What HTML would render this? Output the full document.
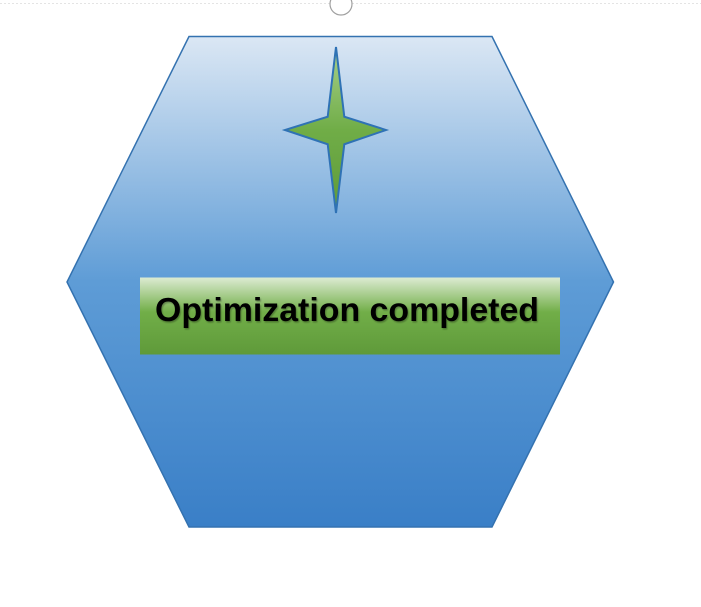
<!DOCTYPE html>
<html><head><meta charset="utf-8"><style>
html,body{margin:0;padding:0;background:#fff;}
svg{display:block;}
</style></head><body>
<svg width="701" height="607" viewBox="0 0 701 607" xmlns="http://www.w3.org/2000/svg">
<defs>
<linearGradient id="hex" x1="0" y1="0" x2="0" y2="1">
<stop offset="0" stop-color="#dbe7f4"/>
<stop offset="0.5" stop-color="#5e9cd6"/>
<stop offset="1" stop-color="#3a7fc7"/>
</linearGradient>
<linearGradient id="grn" x1="0" y1="0" x2="0" y2="1">
<stop offset="0" stop-color="#dcebd2"/>
<stop offset="0.45" stop-color="#71ae48"/>
<stop offset="1" stop-color="#5f9a3a"/>
</linearGradient>
<linearGradient id="star" x1="0" y1="0" x2="0" y2="1">
<stop offset="0" stop-color="#a8d08c"/>
<stop offset="0.5" stop-color="#70ad47"/>
<stop offset="1" stop-color="#5f9a3a"/>
</linearGradient>
<filter id="sh" x="-5%" y="-20%" width="110%" height="140%">
<feGaussianBlur in="SourceAlpha" stdDeviation="0.8"/>
<feOffset dx="1" dy="1.5" result="b"/>
<feComponentTransfer><feFuncA type="linear" slope="0.3"/></feComponentTransfer>
<feMerge><feMergeNode/><feMergeNode in="SourceGraphic"/></feMerge>
</filter>
</defs>
<line x1="0" y1="3.5" x2="701" y2="3.5" stroke="#e4e4e4" stroke-width="1" stroke-dasharray="2,2"/>
<circle cx="341" cy="4" r="11" fill="#fff" stroke="#a0a0a0" stroke-width="1.2"/>
<polygon points="189,36.5 492,36.5 613.5,282 492,527 189,527 67,282" fill="url(#hex)" stroke="#3472b0" stroke-width="1.5"/>
<polygon points="336,47 344.3,116.7 386,130 344.3,144.3 336,213 327.7,144.3 285,130 327.7,116.7" fill="url(#star)" stroke="#2f72b5" stroke-width="2" stroke-linejoin="miter"/>
<rect x="140" y="277.5" width="420" height="77" fill="url(#grn)"/>
<text x="155" y="321" font-family="'Liberation Sans', sans-serif" font-weight="bold" font-size="33" fill="#000" textLength="384" lengthAdjust="spacingAndGlyphs" filter="url(#sh)">Optimization completed</text>
</svg>
</body></html>
